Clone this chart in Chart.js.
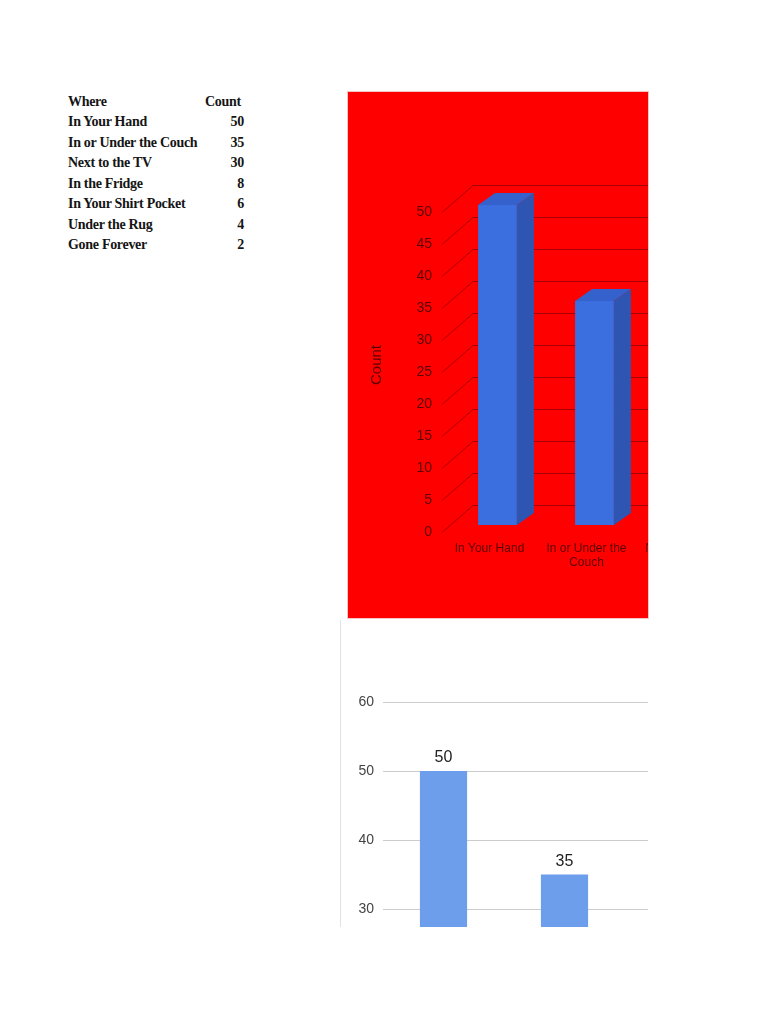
<!DOCTYPE html>
<html><head><meta charset="utf-8">
<script src="https://cdn.jsdelivr.net/npm/chart.js@4"></script>
<style>
html,body{margin:0;padding:0;background:#fff;width:768px;height:1024px;overflow:hidden;position:relative}
#tbl{position:absolute;left:0;top:0;font-family:"Liberation Serif",serif;font-weight:bold;font-size:14px;letter-spacing:-0.3px;color:#151515}
.row{position:absolute;left:68px;width:176px;height:20px;line-height:20px}
.row .n{position:absolute;left:0;white-space:nowrap}
.row .c{position:absolute;right:0}
.row .h{position:absolute;left:137px}
#box1{position:absolute;left:348px;top:92px;width:300px;height:526px;overflow:hidden;background:#ff0000;box-shadow:0 0 0 1px #f9c4c4}
#box2{position:absolute;left:340px;top:620px;width:308px;height:307px;overflow:hidden;background:#fff;box-shadow:inset 1px 0 0 #e2e2e2}
canvas{position:absolute;left:0;top:0}
</style>
</head><body>
<div id="tbl"></div>
<div id="box1"><canvas id="c1" width="800" height="526"></canvas></div>
<div id="box2"><canvas id="c2" width="910" height="536"></canvas></div>
<script>
// ---- data ----
const headerWhere = "Where";
const headerCount = "Count";
const categories = ["In Your Hand","In or Under the Couch","Next to the TV","In the Fridge","In Your Shirt Pocket","Under the Rug","Gone Forever"];
const counts = [50,35,30,8,6,4,2];
const axisTitle = "Count";

// ---- table ----
const tbl = document.getElementById('tbl');
function addRow(i, name, val, header){
  const r = document.createElement('div');
  r.className = 'row';
  r.style.top = (92 + i*20.45) + 'px';
  const n = document.createElement('span'); n.className='n'; n.textContent = name; r.appendChild(n);
  const c = document.createElement('span'); c.className = header ? 'h' : 'c'; c.textContent = val; r.appendChild(c);
  tbl.appendChild(r);
}
addRow(0, headerWhere, headerCount, true);
categories.forEach((c,i)=>addRow(i+1, c, counts[i], false));

function wrapLabel(s){
  const words = s.split(' '); const lines=[]; let cur='';
  words.forEach(w=>{
    const t = cur ? cur+' '+w : w;
    if (t.length > 15 && cur) { lines.push(cur); cur = w; } else cur = t;
  });
  if (cur) lines.push(cur);
  return lines.length===1 ? lines[0] : lines;
}

// ---- 3D look plugin ----
const bar3d = {
  id:'bar3d',
  beforeDatasetsDraw(chart, args, o){
    const {ctx, chartArea, scales:{y}} = chart;
    ctx.save();
    ctx.strokeStyle = o.gridColor; ctx.lineWidth = 1;
    y.ticks.forEach(t=>{
      const yf = Math.round(y.getPixelForValue(t.value) + o.frontDy) + 0.5;
      const xf = chartArea.left + o.frontDx;
      const xb = xf + o.backDx, yb = yf + o.backDy;
      ctx.beginPath(); ctx.moveTo(xf, yf); ctx.lineTo(xb, yb); ctx.lineTo(chart.width, yb); ctx.stroke();
    });
    ctx.restore();
  },
  afterDatasetsDraw(chart, args, o){
    const ctx = chart.ctx;
    const meta = chart.getDatasetMeta(0);
    ctx.save();
    meta.data.forEach(bar=>{
      const {x, y, base, width} = bar.getProps(['x','y','base','width'], true);
      const x0 = x - width/2, x1 = x + width/2, dx = o.depthDx, dy = o.depthDy;
      ctx.fillStyle = o.topColor;
      ctx.beginPath(); ctx.moveTo(x0,y); ctx.lineTo(x1,y); ctx.lineTo(x1+dx,y+dy); ctx.lineTo(x0+dx,y+dy); ctx.closePath(); ctx.fill();
      ctx.fillStyle = o.sideColor;
      ctx.beginPath(); ctx.moveTo(x1,y); ctx.lineTo(x1+dx,y+dy); ctx.lineTo(x1+dx,base+dy); ctx.lineTo(x1,base); ctx.closePath(); ctx.fill();
    });
    ctx.restore();
  }
};

const darkRed = '#5c0000';
new Chart(document.getElementById('c1'), {
  type:'bar',
  data:{labels:categories, datasets:[{data:counts, backgroundColor:'#3b6fe0', borderWidth:0, barPercentage:0.4, categoryPercentage:1}]},
  options:{
    responsive:false, animation:false, devicePixelRatio:1,
    layout:{padding:{top:113,left:0,right:20,bottom:0}},
    plugins:{legend:{display:false}, tooltip:{enabled:false},
      bar3d:{gridColor:'rgba(150,0,0,0.85)', frontDx:-7, frontDy:7, backDx:31, backDy:-27, depthDx:17, depthDy:-12, topColor:'#3461cc', sideColor:'#2e55b2'}},
    scales:{
      x:{grid:{display:false, drawTicks:false}, border:{display:false},
         ticks:{color:darkRed, font:{family:'Liberation Sans', size:12}, padding:16, labelOffset:-8, maxRotation:0, minRotation:0, autoSkip:false,
           callback:function(v){ return wrapLabel(this.getLabelForValue(v)); }},
         afterFit(s){ s.height = 93; }},
      y:{min:0, max:50, grid:{display:false, drawTicks:false}, border:{display:false},
         ticks:{stepSize:5, color:darkRed, font:{family:'Liberation Sans', size:14}, padding:17, labelOffset:7},
         title:{display:true, text:axisTitle, color:darkRed, font:{family:'Liberation Sans', size:15}, padding:{top:20,bottom:0}},
         afterFit(s){ s.width = 101; }}
    }
  },
  plugins:[bar3d]
});

// ---- flat chart with value labels ----
const valueLabels = {
  id:'valueLabels',
  afterDatasetsDraw(chart){
    const ctx = chart.ctx; const meta = chart.getDatasetMeta(0);
    ctx.save();
    ctx.fillStyle = '#222'; ctx.font = '16px "Liberation Sans"'; ctx.textAlign='center'; ctx.textBaseline='middle';
    meta.data.forEach((bar,i)=>{ ctx.fillText(String(chart.data.datasets[0].data[i]), bar.x, bar.y - 13); });
    ctx.restore();
  }
};
new Chart(document.getElementById('c2'), {
  type:'bar',
  data:{labels:categories, datasets:[{data:counts, backgroundColor:'#6d9eeb', borderWidth:0, barPercentage:0.39, categoryPercentage:1}]},
  options:{
    responsive:false, animation:false, devicePixelRatio:1,
    layout:{padding:{top:82,left:0,right:20,bottom:0}},
    plugins:{legend:{display:false}, tooltip:{enabled:false}},
    scales:{
      x:{grid:{display:false, drawTicks:false}, border:{display:false},
         ticks:{color:'#444', font:{family:'Liberation Sans', size:12}, padding:8, maxRotation:0, minRotation:0, autoSkip:false,
           callback:function(v){ return wrapLabel(this.getLabelForValue(v)); }},
         afterFit(s){ s.height = 40; }},
      y:{min:0, max:60, grid:{color:'#cccccc', drawTicks:false}, border:{display:false},
         ticks:{stepSize:10, color:'#444', font:{family:'Liberation Sans', size:14}, padding:9},
         afterFit(s){ s.width = 43; }}
    }
  },
  plugins:[valueLabels]
});
</script>
</body></html>
